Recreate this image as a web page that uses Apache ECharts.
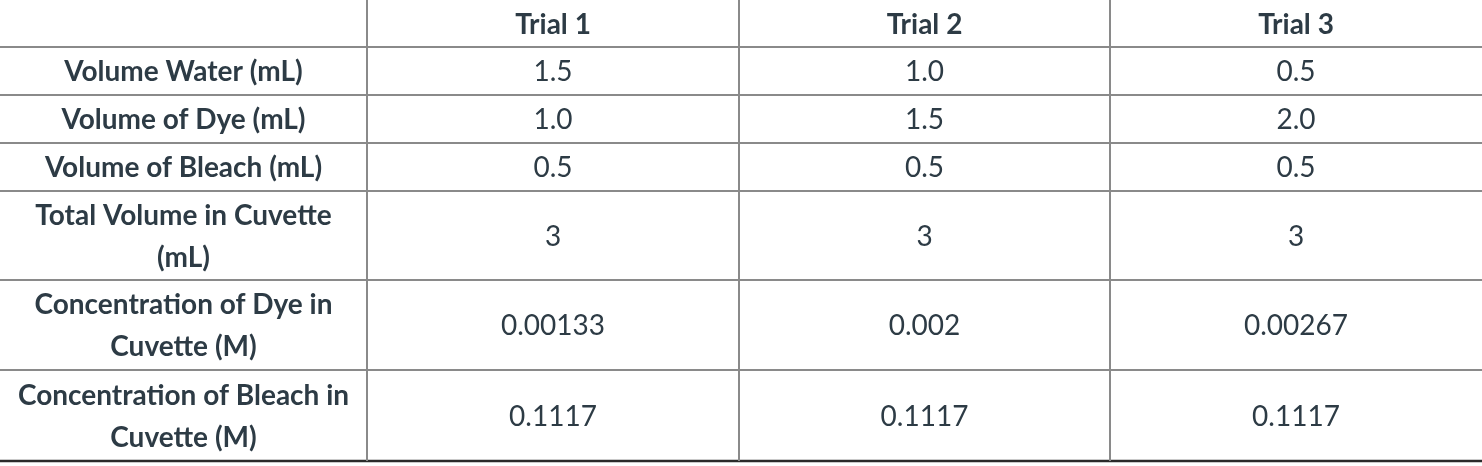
<!DOCTYPE html>
<html><head><meta charset="utf-8">
<script src="https://cdn.jsdelivr.net/npm/echarts@6/dist/echarts.min.js"></script>
<style>html,body{margin:0;padding:0;background:#fff}#c{width:1482px;height:466px}</style>
</head><body><div id="c"></div>
<script>
var columns = ["", "Trial 1", "Trial 2", "Trial 3"];
var rowLabels = ["Volume Water (mL)", "Volume of Dye (mL)", "Volume of Bleach (mL)", "Total Volume in Cuvette\n(mL)", "Concentration of Dye in\nCuvette (M)", "Concentration of Bleach in\nCuvette (M)"];
var trial1 = ["1.5", "1.0", "0.5", "3", "0.00133", "0.1117"];
var trial2 = ["1.0", "1.5", "0.5", "3", "0.002", "0.1117"];
var trial3 = ["0.5", "2.0", "0.5", "3", "0.00267", "0.1117"];
// layout (pixel-space edges)
var colEdges = [0, 367, 739, 1110, 1482];
var rowEdges = [0, 47, 95, 143, 191, 280, 370, 461];

var data = [];
columns.forEach(function(t, c){ data.push([c, 0, t]); });
rowLabels.forEach(function(t, r){
  data.push([0, r+1, t]); data.push([1, r+1, trial1[r]]);
  data.push([2, r+1, trial2[r]]); data.push([3, r+1, trial3[r]]);
});
var nRows = rowEdges.length - 1;
var chart = echarts.init(document.getElementById('c'));
chart.setOption({
  animation:false,
  grid:{left:0,right:0,top:0,bottom:0,containLabel:false},
  xAxis:{type:'value',min:0,max:1482,show:false},
  yAxis:{type:'value',min:0,max:466,inverse:true,show:false},
  series:[{
    type:'custom',
    data:data,
    renderItem:function(params, api){
      var c=api.value(0), r=api.value(1), txt=data[params.dataIndex][2];
      var p0=api.coord([colEdges[c], rowEdges[r]]);
      var p1=api.coord([colEdges[c+1], rowEdges[r+1]]);
      var bold = (r===0 || c===0);
      var last = r===nRows-1;
      var children=[{
        type:'text',
        style:{text:txt,x:(p0[0]+p1[0])/2,y:(p0[1]+p1[1])/2+1,align:'center',verticalAlign:'middle',
          font:(bold?'bold ':'')+'28px Lato',fill:'#2d3b45',lineHeight:42}
      },{
        type:'line',shape:{x1:p0[0],y1:p1[1],x2:p1[0],y2:p1[1]},
        style:{stroke:last?'#2b2b2b':'#8a8a8a',lineWidth:last?2.5:2}
      }];
      if(c>0) children.push({type:'line',shape:{x1:p0[0],y1:p0[1],x2:p0[0],y2:p1[1]},style:{stroke:'#8a8a8a',lineWidth:2}});
      return {type:'group',children:children};
    }
  }]
});
</script></body></html>
